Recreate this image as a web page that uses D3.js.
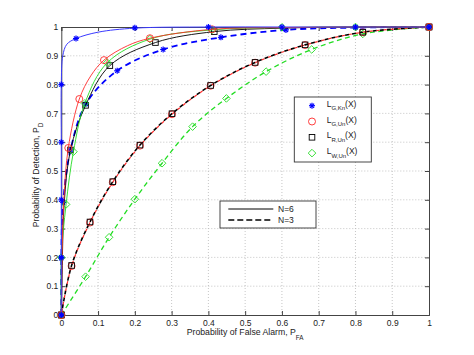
<!DOCTYPE html>
<html><head><meta charset="utf-8">
<script src="https://cdn.jsdelivr.net/npm/d3@7"></script>
<style>body{margin:0;background:#fff}svg{display:block;font-family:"Liberation Sans",Arial,sans-serif}</style>
</head><body><svg id="c" width="474" height="355"></svg>
<script>
const xTicks = [0,0.1,0.2,0.3,0.4,0.5,0.6,0.7,0.8,0.9,1];
const yTicks = [0,0.1,0.2,0.3,0.4,0.5,0.6,0.7,0.8,0.9,1];
const xLabel = "Probability of False Alarm, P";
const xLabelSub = "FA";
const yLabel = "Probability of Detection, P";
const yLabelSub = "D";

// N=6 (solid) curves: line path points and marker points
const gKn6Line = [[0,0],[0,0.2],[0,0.4],[0,0.6],[0,0.8],[0.004,0.9],[0.015,0.94],[0.04,0.96],[0.1,0.982],[0.2,0.996],[0.4,1],[0.6,1],[0.8,1],[1,1]];
const gKn6Mark = [[0,0],[0,0.2],[0,0.4],[0,0.6],[0,0.8],[0.04,0.96],[0.2,0.997],[0.4,1],[0.6,1],[0.8,1],[1,1]];
const gUn6Line = [[0,0],[0.002,0.2],[0.007,0.4],[0.019,0.58],[0.049,0.75],[0.08,0.83],[0.116,0.885],[0.18,0.935],[0.241,0.961],[0.41,0.992],[0.6,0.998],[0.8,1],[1,1]];
const gUn6Mark = [[0,0],[0.019,0.58],[0.049,0.75],[0.116,0.885],[0.241,0.961],[0.41,0.992],[1,1]];
const rUn6Line = [[0,0],[0.003,0.2],[0.008,0.39],[0.025,0.573],[0.066,0.728],[0.132,0.866],[0.256,0.946],[0.416,0.984],[0.6,0.996],[0.8,1],[1,1]];
const rUn6Mark = [[0,0],[0.025,0.573],[0.066,0.728],[0.132,0.866],[0.256,0.946],[0.416,0.984],[1,1]];
const wUn6Line = [[0,0],[0,0.2],[0.013,0.384],[0.033,0.567],[0.064,0.735],[0.125,0.876],[0.241,0.958],[0.41,0.99],[0.6,0.998],[0.8,1],[1,1]];
const wUn6Mark = [[0,0],[0,0.2],[0.013,0.384],[0.033,0.567],[0.064,0.735],[0.125,0.876],[0.241,0.958],[0.41,0.99],[0.6,0.999],[0.8,1],[1,1]];

// N=3 (dashed) curves
const gKn3 = [[0,0],[0,0.197],[0.005,0.391],[0.025,0.573],[0.067,0.733],[0.152,0.848],[0.277,0.922],[0.434,0.964],[0.611,0.99],[0.8,0.998],[1,1]];
const rUn3 = [[0,0],[0.028,0.172],[0.078,0.323],[0.14,0.463],[0.214,0.59],[0.301,0.699],[0.406,0.797],[0.527,0.877],[0.663,0.938],[0.82,0.982],[1,1]];
const gUn3 = [[0,0],[0.028,0.170],[0.078,0.321],[0.14,0.461],[0.214,0.588],[0.301,0.697],[0.406,0.796],[0.527,0.876],[0.663,0.9375],[0.82,0.982],[1,1]];
const wUn3 = [[0,0],[0.066,0.133],[0.13,0.27],[0.2,0.402],[0.274,0.527],[0.357,0.654],[0.449,0.752],[0.557,0.845],[0.681,0.922],[0.82,0.976],[1,1]];

const legendNames = [["G,Kn","#0000ff","star"],["G,Un","#ff2a2a","circle"],["R,Un","#000000","square"],["W,Un","#22dd22","diamond"]];
const styleNames = ["N=6","N=3"];

const svg = d3.select("#c");
const L = 61.3, R = 429, T = 27, B = 315;
const x = d3.scaleLinear().domain([0,1]).range([L,R]);
const y = d3.scaleLinear().domain([0,1]).range([B,T]);
const FS = 8.5;

// grid
const g = svg.append("g");
g.selectAll(".gx").data(xTicks.slice(1,-1)).enter().append("line")
  .attr("x1",d=>x(d)).attr("x2",d=>x(d)).attr("y1",T).attr("y2",B)
  .attr("stroke","#b8b8b8").attr("stroke-width",0.8).attr("stroke-dasharray","1,2");
g.selectAll(".gy").data(yTicks.slice(1,-1)).enter().append("line")
  .attr("y1",d=>y(d)).attr("y2",d=>y(d)).attr("x1",L).attr("x2",R)
  .attr("stroke","#b8b8b8").attr("stroke-width",0.8).attr("stroke-dasharray","1,2");

// axes with inward ticks
const ax = d3.axisBottom(x).tickValues(xTicks).tickSize(-4).tickPadding(5).tickFormat(d3.format("~g"));
const ay = d3.axisLeft(y).tickValues(yTicks).tickSize(-4).tickPadding(3).tickFormat(d3.format("~g"));
const axT = d3.axisTop(x).tickValues(xTicks).tickSize(-4).tickFormat("");
const ayR = d3.axisRight(y).tickValues(yTicks).tickSize(-4).tickFormat("");
function styleAxis(sel){
  sel.select(".domain").attr("stroke","#444");
  sel.selectAll(".tick line").attr("stroke","#444");
  sel.selectAll("text").attr("font-size",FS).attr("fill","#222").attr("font-family","Liberation Sans, Arial, sans-serif");
}
svg.append("g").attr("transform",`translate(0,${B})`).call(ax).call(styleAxis);
svg.append("g").attr("transform",`translate(${L},0)`).call(ay).call(styleAxis);
svg.append("g").attr("transform",`translate(0,${T})`).call(axT).call(styleAxis);
svg.append("g").attr("transform",`translate(${R},0)`).call(ayR).call(styleAxis);

// labels
const xl = svg.append("text").attr("x",(L+R)/2).attr("y",334.5).attr("text-anchor","middle").attr("font-size",FS+0.2).attr("fill","#222");
xl.append("tspan").text(xLabel);
xl.append("tspan").attr("dy",5).attr("font-size",6.3).text(xLabelSub);
const yl = svg.append("text").attr("transform",`translate(38.5,175) rotate(-90)`).attr("text-anchor","middle").attr("font-size",FS+0.2).attr("fill","#222");
yl.append("tspan").text(yLabel);
yl.append("tspan").attr("dy",4.5).attr("font-size",6.3).text(yLabelSub);

// lines
const line = d3.line().x(d=>x(d[0])).y(d=>y(d[1])).curve(d3.curveCatmullRom.alpha(0.5));
const plot = svg.append("g");
function drawLine(data,color,w,dash,offset){
  plot.append("path").attr("d",line(data)).attr("fill","none").attr("stroke",color)
    .attr("stroke-width",w).attr("stroke-dasharray",dash||null).attr("stroke-dashoffset",offset||0);
}
function marker(gsel,type,cx,cy,color){
  if(type==="star"){
    const s=3;
    const p = gsel.append("g").attr("stroke",color).attr("stroke-width",1.2);
    p.append("line").attr("x1",cx-s).attr("x2",cx+s).attr("y1",cy).attr("y2",cy);
    p.append("line").attr("x1",cx).attr("x2",cx).attr("y1",cy-s).attr("y2",cy+s);
    p.append("line").attr("x1",cx-s*0.7).attr("x2",cx+s*0.7).attr("y1",cy-s*0.7).attr("y2",cy+s*0.7);
    p.append("line").attr("x1",cx-s*0.7).attr("x2",cx+s*0.7).attr("y1",cy+s*0.7).attr("y2",cy-s*0.7);
  } else if(type==="circle"){
    gsel.append("circle").attr("cx",cx).attr("cy",cy).attr("r",3.5).attr("fill","none").attr("stroke",color).attr("stroke-width",0.9);
  } else if(type==="square"){
    gsel.append("rect").attr("x",cx-2.8).attr("y",cy-2.8).attr("width",5.6).attr("height",5.6).attr("fill","none").attr("stroke",color).attr("stroke-width",0.9);
  } else {
    const s=3.8;
    gsel.append("path").attr("d",`M${cx},${cy-s}L${cx+s},${cy}L${cx},${cy+s}L${cx-s},${cy}Z`).attr("fill","none").attr("stroke",color).attr("stroke-width",0.9);
  }
}
function drawMarks(data,type,color){
  const mg = plot.append("g");
  data.forEach(d=>marker(mg,type,x(d[0]),y(d[1]),color));
}
const cB="#0000ff", cR="#ff2a2a", cK="#000000", cG="#22dd22";
// dashed N=3
drawLine(wUn3,cG,1.3,"5,3.5");
drawMarks(wUn3,"diamond",cG);
drawLine(rUn3,cK,1.6,"4,3");
drawLine(gUn3,cR,1.2,"3,4",-3.5);
drawMarks(gUn3,"circle",cR);
drawMarks(rUn3,"square",cK);
drawLine(gKn3,cB,1.8,"6,4");
drawMarks(gKn3,"star",cB);
// solid N=6
drawLine(rUn6Line,cK,0.9);
drawMarks(rUn6Mark,"square",cK);
drawLine(wUn6Line,cG,0.9);
drawMarks(wUn6Mark,"diamond",cG);
drawLine(gUn6Line,cR,0.9);
drawMarks(gUn6Mark,"circle",cR);
drawLine(gKn6Line,"#3a3aff",1);
drawMarks(gKn6Mark,"star",cB);

// legend 1
const lg = svg.append("g");
lg.append("rect").attr("x",294.3).attr("y",97).attr("width",77).attr("height",65).attr("fill","#fff").attr("stroke","#333").attr("stroke-width",0.9);
legendNames.forEach((n,i)=>{
  const cy = 105.7 + i*15.8;
  marker(lg,n[2],312,cy,n[1]);
  const t = lg.append("text").attr("x",326.7).attr("y",cy+1).attr("font-size",FS).attr("fill","#222");
  t.append("tspan").text("L");
  t.append("tspan").attr("dy",3.5).attr("font-size",6).text(n[0]);
  t.append("tspan").attr("dy",-3.5).text("(X)");
});
// legend 2
const lg2 = svg.append("g");
lg2.append("rect").attr("x",220).attr("y",201).attr("width",96).attr("height",27).attr("fill","#fff").attr("stroke","#333").attr("stroke-width",0.9);
styleNames.forEach((n,i)=>{
  const cy = 209 + i*11;
  lg2.append("line").attr("x1",228.3).attr("x2",273.3).attr("y1",cy).attr("y2",cy).attr("stroke","#000").attr("stroke-width",i?1.3:1).attr("stroke-dasharray",i?"6,3":null);
  lg2.append("text").attr("x",278).attr("y",cy+3).attr("font-size",FS).attr("fill","#222").text(n);
});
</script></body></html>
